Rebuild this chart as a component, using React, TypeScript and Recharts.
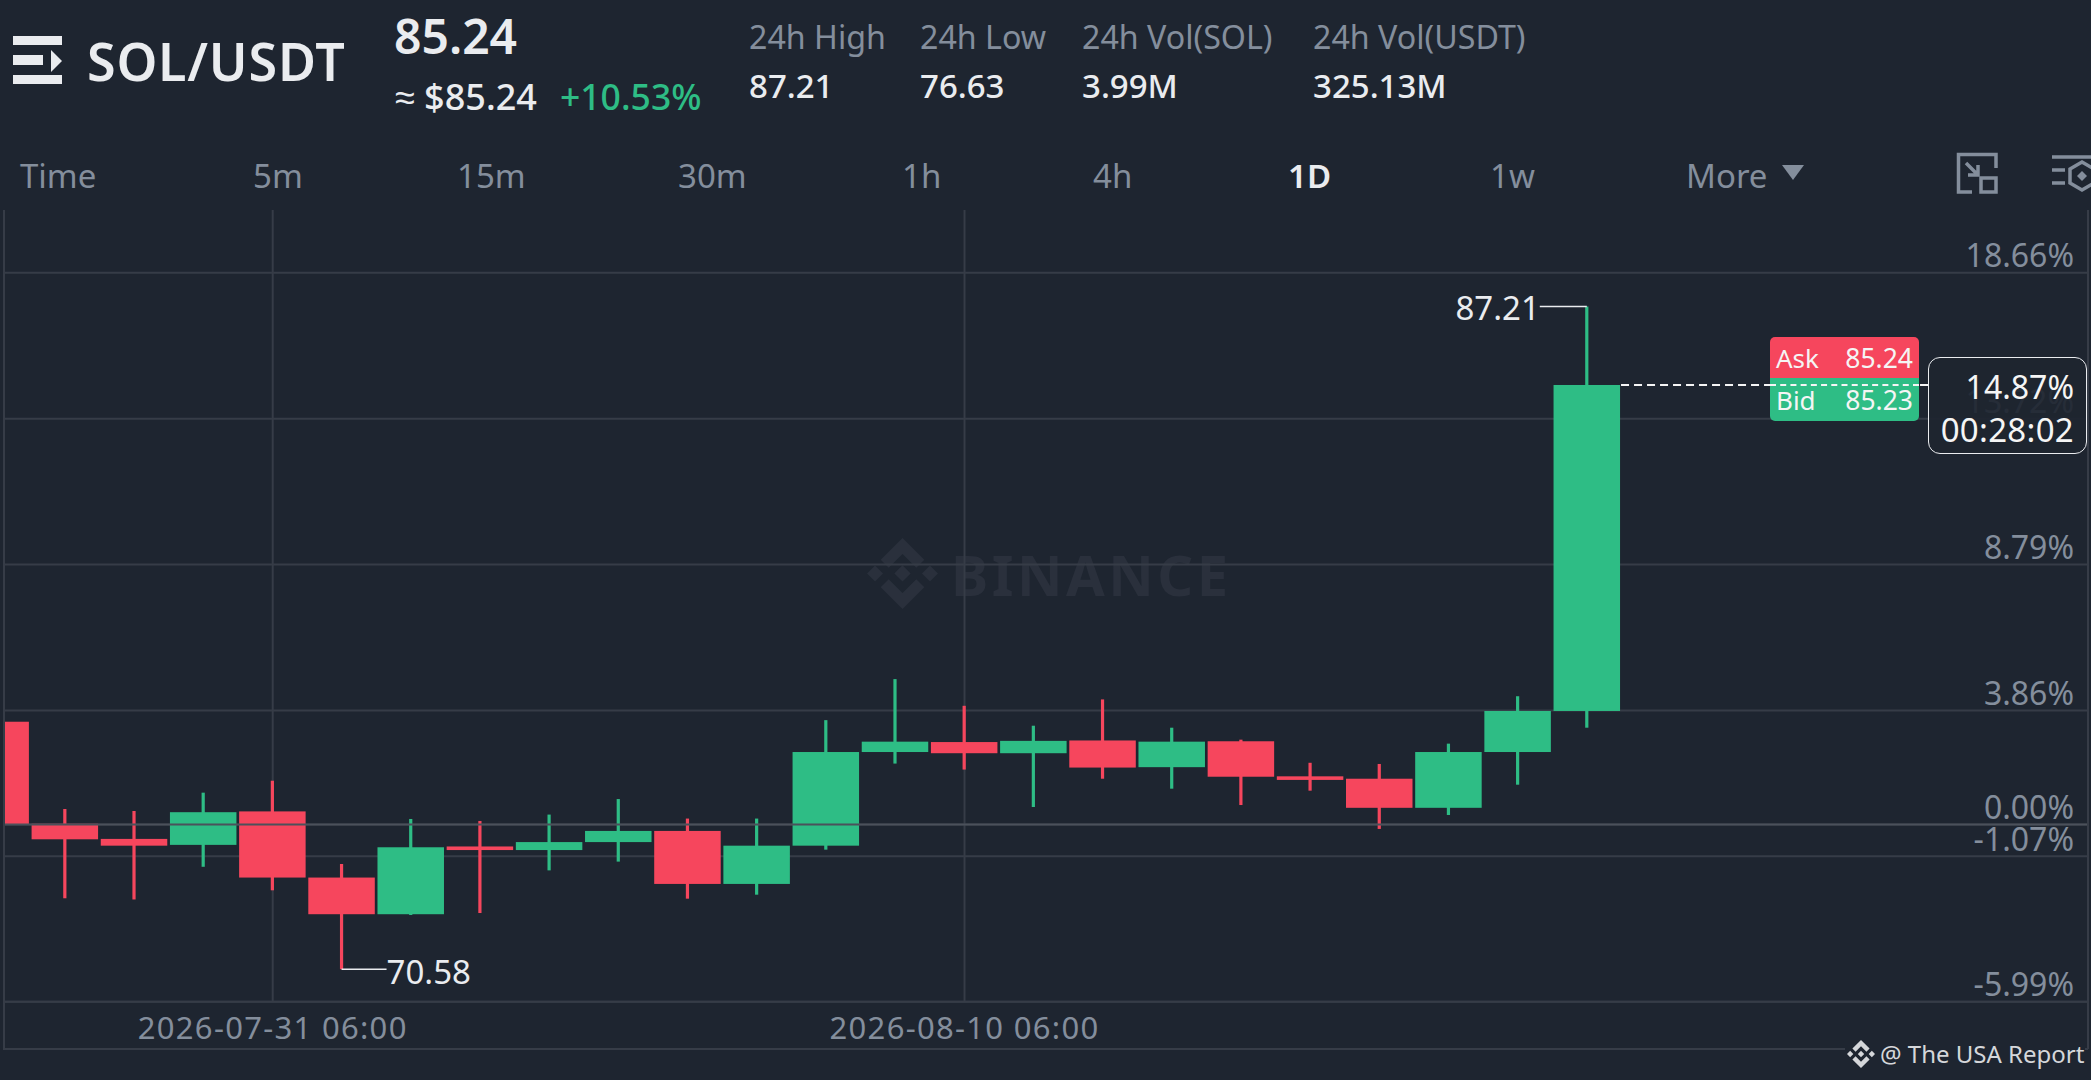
import { BarChart, Bar, XAxis, YAxis, CartesianGrid, ReferenceLine } from "recharts";

const FONT = "'Noto Sans', sans-serif";
const BG = "#1e2530";
const GREEN = "#2ebd85";
const RED = "#f6465d";
const MUTED = "#848e9c";
const GRID = "#363c47";

const BASE_PRICE = 74.21;
const LAST_PRICE = 85.24;

const dates = [
  "2026-07-27", "2026-07-28", "2026-07-29", "2026-07-30", "2026-07-31", "2026-08-01",
  "2026-08-02", "2026-08-03", "2026-08-04", "2026-08-05", "2026-08-06", "2026-08-07",
  "2026-08-08", "2026-08-09", "2026-08-10", "2026-08-11", "2026-08-12", "2026-08-13",
  "2026-08-14", "2026-08-15", "2026-08-16", "2026-08-17", "2026-08-18", "2026-08-19",
];
const opens = [76.79, 74.23, 73.85, 73.7, 74.54, 72.88, 71.96, 73.66, 73.57, 73.77, 74.05, 72.72, 73.68, 76.03, 76.28, 76.0, 76.32, 75.65, 76.3, 75.42, 75.36, 74.63, 76.03, 77.06];
const closes = [74.21, 73.84, 73.68, 74.52, 72.88, 71.96, 73.64, 73.57, 73.77, 74.05, 72.72, 73.68, 76.03, 76.29, 76.0, 76.31, 75.64, 76.29, 75.41, 75.33, 74.63, 76.03, 77.06, 85.24];
const highs = [77.2, 74.6, 74.55, 75.01, 75.31, 73.22, 74.35, 74.3, 74.46, 74.85, 74.36, 74.36, 76.83, 77.86, 77.19, 76.69, 77.35, 76.64, 76.34, 75.76, 75.73, 76.24, 77.43, 87.21];
const lows = [74.0, 72.36, 72.33, 73.15, 72.56, 70.58, 71.94, 71.99, 73.06, 73.28, 72.35, 72.45, 73.58, 75.74, 75.59, 74.65, 75.36, 75.11, 74.7, 75.06, 74.1, 74.45, 75.21, 76.64];

const percentTicks = [18.66, 13.72, 8.79, 3.86, 0, -1.07, -5.99];
const timeTicks = [4, 14];

const stats = [
  { label: "24h High", value: "87.21", x: 749 },
  { label: "24h Low", value: "76.63", x: 920 },
  { label: "24h Vol(SOL)", value: "3.99M", x: 1082 },
  { label: "24h Vol(USDT)", value: "325.13M", x: 1313 },
];
const intervals = [
  { label: "Time", x: 20 },
  { label: "5m", x: 253 },
  { label: "15m", x: 457 },
  { label: "30m", x: 678 },
  { label: "1h", x: 902 },
  { label: "4h", x: 1093 },
  { label: "1D", x: 1288, active: true },
  { label: "1w", x: 1490 },
  { label: "More", x: 1686 },
];

const pct = (price: number) => ((price - BASE_PRICE) / BASE_PRICE) * 100;

const candles = dates.map((date, i) => ({
  day: i,
  date,
  open: pct(opens[i]),
  close: pct(closes[i]),
  high: pct(highs[i]),
  low: pct(lows[i]),
  highPrice: highs[i],
  lowPrice: lows[i],
}));

const maxHigh = Math.max(...highs);
const minLow = Math.min(...lows);

function Candle(props: any) {
  const { x, y, width, height, payload } = props;
  const { open, close, high, low } = payload;
  const toY = (v: number) => y + ((high - v) / (high - low)) * height;
  const top = toY(Math.max(open, close));
  const bottom = toY(Math.min(open, close));
  const up = close >= open;
  const color = up ? GREEN : RED;
  const cx = x + width / 2;
  return (
    <g>
      <rect x={cx - 1.6} y={y} width={3.2} height={height} fill={color} />
      <rect x={x} y={top} width={width} height={Math.max(bottom - top, 1)} fill={color} />
      {payload.highPrice === maxHigh && (
        <g>
          <line x1={cx} x2={cx - 47} y1={y} y2={y} stroke="#eaecef" strokeWidth={1.5} />
          <text x={cx - 47} y={y + 1} textAnchor="end" dominantBaseline="central" fontSize={33} fill="#eaecef" fontFamily={FONT}>
            {payload.highPrice.toFixed(2)}
          </text>
        </g>
      )}
      {payload.lowPrice === minLow && (
        <g>
          <line x1={cx} x2={cx + 45} y1={y + height} y2={y + height} stroke="#eaecef" strokeWidth={1.5} />
          <text x={cx + 45} y={y + height + 2} dominantBaseline="central" fontSize={33} fill="#eaecef" fontFamily={FONT}>
            {payload.lowPrice.toFixed(2)}
          </text>
        </g>
      )}
    </g>
  );
}

function Txt({ x, y, size, color, weight, right, spacing, children }: any) {
  return (
    <div
      style={{
        position: "absolute",
        left: right ? undefined : x,
        right: right ? 2091 - x : undefined,
        top: y,
        transform: "translateY(-50%)",
        fontSize: size,
        color,
        fontWeight: weight ?? 400,
        letterSpacing: spacing ?? 0,
        lineHeight: 1,
        whiteSpace: "nowrap",
      }}
    >
      {children}
    </div>
  );
}

function BinanceMark({ x, y, size, color }: any) {
  return (
    <svg style={{ position: "absolute", left: x, top: y }} width={size} height={size} viewBox="0 0 126.61 126.61">
      <path
        fill={color}
        d="M38.73 53.2l24.59-24.58 24.6 24.6 14.3-14.31L63.32 0 24.42 38.9z M0 63.31l14.3-14.31 14.31 14.31-14.31 14.3z M38.73 73.41l24.59 24.59 24.6-24.6 14.31 14.29-38.9 38.91-38.91-38.88-.02-.02z M98.01 63.31l14.3-14.31 14.31 14.3-14.31 14.32z M77.83 63.3L63.32 48.78 52.59 59.51l-1.24 1.23-2.54 2.54 14.51 14.5 14.51-14.47z"
      />
    </svg>
  );
}

export default function App() {
  return (
    <div style={{ position: "fixed", left: 0, top: 0, width: 2091, height: 1080, background: BG, overflow: "hidden", fontFamily: FONT }}>
      {/* watermark sits under the chart */}
      <BinanceMark x={867} y={538} size={71} color="#2a303c" />
      <Txt x={951} y={574} size={56} color="#2a303c" weight={700} spacing={3.5}>BINANCE</Txt>

      <div style={{ position: "absolute", left: 0, top: 0 }}>
        <BarChart
          width={2091}
          height={1080}
          data={candles}
          margin={{ top: 210, right: 3, left: 3.6, bottom: 0 }}
          barSize={66.5}
        >
          <CartesianGrid stroke={GRID} strokeWidth={2} syncWithTicks />
          <XAxis
            type="number"
            dataKey="day"
            domain={[0.11, 30.24]}
            allowDataOverflow
            ticks={timeTicks}
            interval={0}
            tickFormatter={(d: number) => `${dates[d]} 06:00`}
            height={78.3}
            stroke={GRID}
            strokeWidth={2}
            tickLine={false}
            tickMargin={9}
            tick={{ fontSize: 31, fill: MUTED, fontFamily: FONT, letterSpacing: 1.3 }}
          />
          <YAxis
            orientation="right"
            mirror
            type="number"
            domain={[-5.99, 20.78]}
            ticks={percentTicks}
            interval={0}
            axisLine={false}
            tickLine={false}
            tickSize={0}
            tickMargin={14}
            tickFormatter={(v: number) => `${v.toFixed(2)}%`}
            tick={{ fontSize: 32, fill: MUTED, fontFamily: FONT, dy: -17 }}
          />
          <ReferenceLine y={0} stroke="#4b515b" strokeWidth={2} />
          <Bar
            dataKey={(d: any) => [d.low, d.high]}
            shape={<Candle />}
            isAnimationActive={false}
          />
          <ReferenceLine
            segment={[
              { x: 23.49, y: pct(LAST_PRICE) },
              { x: 27.93, y: pct(LAST_PRICE) },
            ]}
            stroke="#f5f5f5"
            strokeWidth={2}
            strokeDasharray="8 5"
          />
        </BarChart>
      </div>

      {/* frame */}
      <div style={{ position: "absolute", left: 3, top: 210, width: 2, height: 839, background: GRID }} />
      <div style={{ position: "absolute", left: 2087, top: 210, width: 2, height: 839, background: GRID }} />
      <div style={{ position: "absolute", left: 3, top: 1048, width: 2085, height: 2, background: GRID }} />

      {/* order book tags */}
      <div style={{ position: "absolute", left: 1770, top: 337, width: 149, height: 41, background: RED, borderRadius: "5px 5px 0 0" }} />
      <div style={{ position: "absolute", left: 1770, top: 378, width: 149, height: 43, background: GREEN, borderRadius: "0 0 5px 5px" }} />
      <div style={{ position: "absolute", left: 1770, top: 384, width: 149, height: 0, borderTop: "2px dashed #f5f5f5" }} />
      <Txt x={1776} y={358} size={26} color="#f5f5f5">Ask</Txt>
      <Txt x={1913} y={358} size={26.5} color="#f5f5f5" right>85.24</Txt>
      <Txt x={1776} y={400} size={26} color="#f5f5f5">Bid</Txt>
      <Txt x={1913} y={400} size={26.5} color="#f5f5f5" right>85.23</Txt>

      {/* last price box */}
      <div style={{ position: "absolute", left: 1928, top: 357, width: 159, height: 97, boxSizing: "border-box", border: "1.5px solid #eaecef", borderRadius: 12, background: "rgba(30,37,48,0.92)" }} />
      <Txt x={2074} y={387} size={32} color="#f5f5f5" right>14.87%</Txt>
      <Txt x={2074} y={429} size={33} color="#f5f5f5" right spacing={0.3}>00:28:02</Txt>

      {/* header */}
      <svg style={{ position: "absolute", left: 13, top: 36 }} width={50} height={48} viewBox="0 0 50 48">
        <rect x={0} y={0} width={49} height={9} fill="#eaecef" />
        <rect x={0} y={39} width={49} height={9} fill="#eaecef" />
        <rect x={0} y={19} width={30} height={10} fill="#eaecef" />
        <path d="M38 14 L49 25 L38 36 Z" fill="#eaecef" />
      </svg>
      <Txt x={87} y={61} size={52} color="#eaecef" weight={600} spacing={0.8}>SOL/USDT</Txt>
      <Txt x={394} y={36} size={48} color="#eaecef" weight={600}>85.24</Txt>
      <Txt x={395} y={97} size={36} color="#eaecef" weight={500}>≈ $85.24</Txt>
      <Txt x={560} y={97} size={35.5} color={GREEN} weight={500}>+10.53%</Txt>
      {stats.map((s) => (
        <div key={s.label}>
          <Txt x={s.x} y={37} size={32.2} color={MUTED}>{s.label}</Txt>
          <Txt x={s.x} y={85} size={33} color="#eaecef" weight={500}>{s.value}</Txt>
        </div>
      ))}
      {intervals.map((t) => (
        <Txt key={t.label} x={t.x} y={175} size={33} color={t.active ? "#eaecef" : MUTED} weight={t.active ? 600 : 400}>
          {t.label}
        </Txt>
      ))}
      <svg style={{ position: "absolute", left: 1782, top: 165 }} width={22} height={15}>
        <path d="M0 0 H22 L11 15 Z" fill={MUTED} />
      </svg>
      <svg style={{ position: "absolute", left: 1955, top: 151 }} width={136} height={44} fill="none" stroke={MUTED} strokeWidth={3.5}>
        <path d="M17 41 H3.5 V3.5 H41 V17" />
        <rect x={26} y={27} width={15} height={14} />
        <path d="M11 12 L23 24 M23 14 V24 H13" />
        <path d="M97 6 H136 M97 19 H110 M97 32 H110" />
        <path d="M127 11 L139 18 V32 L127 39 L115 32 V18 Z" />
        <path d="M127 20 L132 25 L127 30 L122 25 Z" fill={MUTED} stroke="none" />
      </svg>

      {/* credit */}
      <div style={{ position: "absolute", left: 1845, top: 1040, width: 240, height: 30, background: BG }} />
      <BinanceMark x={1847} y={1040} size={28} color="#d5d7da" />
      <Txt x={1880} y={1054} size={24} color="#d5d7da">@ The USA Report</Txt>
    </div>
  );
}
